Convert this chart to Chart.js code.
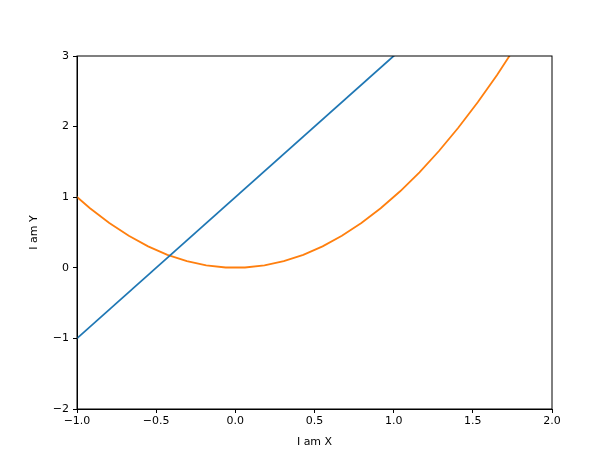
<!DOCTYPE html>
<html>
<head>
<script src="https://cdn.jsdelivr.net/npm/chart.js@4"></script>
<style>body{margin:0;background:#fff}#wrap{width:614px;height:460px}</style>
</head>
<body>
<div id="wrap"><canvas id="c"></canvas></div>
<script>
// y = 2x + 1 (straight line, endpoints beyond the view)
var lineX = [-1.2, 1.2];
var lineY = [-1.4, 3.4];
// y = x^2 sampled points
var curveX = [-1.163, -1.041, -0.918, -0.796, -0.673, -0.551, -0.429, -0.306, -0.184, -0.061,
  0.061, 0.184, 0.306, 0.429, 0.551, 0.673, 0.796, 0.918, 1.041, 1.163, 1.286, 1.408, 1.531, 1.653, 1.776];
var curveY = [1.353, 1.084, 0.843, 0.634, 0.453, 0.304, 0.184, 0.094, 0.034, 0.004,
  0.004, 0.034, 0.094, 0.184, 0.304, 0.453, 0.634, 0.843, 1.084, 1.353, 1.654, 1.983, 2.344, 2.732, 3.154];

function pts(xs, ys) { return xs.map((x, i) => ({x: x, y: ys[i]})) }

var frame = {
  id: 'frame',
  afterDraw: function(chart) {
    var a = chart.chartArea, c = chart.ctx;
    c.save(); c.strokeStyle = '#000'; c.lineWidth = 1;
    c.strokeRect(a.left, a.top, a.right - a.left, a.bottom - a.top);
    c.restore();
  }
};

Chart.defaults.font.family = 'DejaVu Sans';
Chart.defaults.font.size = 11;
Chart.defaults.color = '#000';

new Chart(document.getElementById('c'), {
  type: 'line',
  data: {
    datasets: [
      {data: pts(lineX, lineY), borderColor: '#1f77b4', borderWidth: 1.8, pointRadius: 0, tension: 0},
      {data: pts(curveX, curveY), borderColor: '#ff7f0e', borderWidth: 1.8, pointRadius: 0, tension: 0}
    ]
  },
  options: {
    responsive: true, maintainAspectRatio: false, animation: false,
    layout: {padding: {top: 56, right: 62, left: 24, bottom: 9}},
    plugins: {legend: {display: false}, tooltip: {enabled: false}},
    scales: {
      x: {
        type: 'linear', min: -1, max: 2,
        ticks: {stepSize: 0.5, callback: v => v.toFixed(1).replace('-', '\u2212'), padding: 2},
        grid: {drawOnChartArea: false, color: '#000', tickColor: '#000', tickLength: 4},
        border: {color: '#000'},
        title: {display: true, text: 'I am X', padding: {top: 2, bottom: 2}},
        afterFit: s => { s.height = 42 }
      },
      y: {
        type: 'linear', min: -2, max: 3,
        ticks: {stepSize: 1, callback: v => String(v).replace('-', '\u2212'), padding: 4},
        grid: {drawOnChartArea: false, color: '#000', tickColor: '#000', tickLength: 4},
        border: {color: '#000'},
        title: {display: true, text: 'I am Y', padding: {top: 4, bottom: 4}},
        afterFit: s => { s.width = 53 }
      }
    }
  },
  plugins: [frame]
});
</script>
</body>
</html>
